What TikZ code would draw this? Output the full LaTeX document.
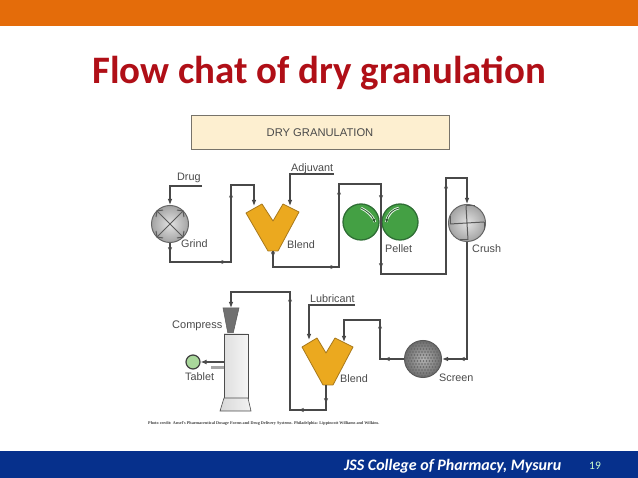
\documentclass[tikz,border=0pt]{standalone}
\usepackage{fontspec}
\setmainfont{Liberation Sans}
\newfontfamily\titlefont{Carlito}
\newfontfamily\creditfont{Liberation Serif}
\usetikzlibrary{arrows.meta,decorations.markings}
\definecolor{bannerorange}{HTML}{E46C0A}
\definecolor{footblue}{HTML}{06308C}
\definecolor{titlered}{HTML}{B00F17}
\definecolor{boxfill}{HTML}{FDEFD0}
\definecolor{boxline}{HTML}{77736A}
\definecolor{linegray}{HTML}{484848}
\definecolor{labelgray}{HTML}{4A4A4A}
\definecolor{vyellow}{HTML}{EBA91F}
\definecolor{vedge}{HTML}{A8791C}
\definecolor{rollgreen}{HTML}{44A044}
\definecolor{rolledge}{HTML}{2F6F35}
\definecolor{tabgreen}{HTML}{A9D79B}
\tikzset{
  flow/.style={draw=linegray,line width=1.1pt,-{Latex[length=6pt,width=4.6pt]}},
  plain/.style={draw=linegray,line width=1.1pt},
  tip/.style={postaction={decorate,decoration={markings,mark=at position #1 with {\arrow{Latex[length=5.5pt,width=4.4pt]}}}}},
  lab/.style={anchor=base west,inner sep=0pt,text=labelgray,font=\fontsize{10.8}{12}\selectfont},
  ball/.style={circle,draw=#1,line width=1pt,minimum size=37pt,inner sep=0pt,inner color=gray!22,outer color=gray!72},
  roller/.style={circle,draw=rolledge,line width=1.3pt,fill=rollgreen,minimum size=36pt,inner sep=0pt},
  vblend/.style={fill=vyellow,draw=vedge,line width=.8pt,line join=round},
  inner/.style={draw=linegray!90,line width=1pt},
  whitearc/.style={draw=white!88!rollgreen,line width=2.6pt},
  darkarc/.style={draw=rolledge!80!black,line width=.8pt,-{Latex[length=4pt,width=3.5pt]}}
}
\begin{document}
\begin{tikzpicture}[x=1pt,y=-1pt]
\useasboundingbox (0,0) rectangle (638,478);
\fill[white] (0,0) rectangle (638,478);
\fill[bannerorange] (0,0) rectangle (638,26);
\fill[footblue] (0,451) rectangle (638,478);
\node[anchor=base west,inner sep=0pt,text=titlered,font=\titlefont\bfseries\fontsize{38.9}{42}\selectfont] (title) at (92,84) {Flow chat of dry granulation};
\node[anchor=base west,inner sep=0pt,text=white,font=\titlefont\bfseries\itshape\fontsize{16}{20}\selectfont] (college) at (344,471) {JSS College of Pharmacy, Mysuru};
\node[anchor=base west,inner sep=0pt,text=white!80!green,font=\titlefont\fontsize{11.5}{13}\selectfont] (pageno) at (589,470) {19};

% heading
\node[draw=boxline,line width=1pt,fill=boxfill,minimum width=258pt,minimum height=34pt,inner sep=0pt,text=labelgray,font=\fontsize{11.2}{13}\selectfont] (head) at (320,133) {DRY GRANULATION};

% equipment
\node[ball=gray!80!black] (grinder) at (170,224) {};
\node[ball=gray!80!black] (crusher) at (467,223) {};
\draw[inner] (157,211) -- (183,237) (183,211) -- (157,237);
\draw[inner] (157,211) -- ++(6,-1) (157,211) -- ++(-1,6) (183,211) -- ++(-6,-1) (183,211) -- ++(1,6) (157,237) -- ++(6,1) (157,237) -- ++(-1,-6) (183,237) -- ++(-6,1) (183,237) -- ++(1,-6);
\draw[inner] (450,224) -- (484,222) (466,206) -- (468,240);
\draw[inner] (466,206) -- ++(9,0) (484,222) -- ++(0,8) (468,240) -- ++(-8,0) (450,224) -- ++(0,-8);

\node[roller] (rollL) at (361,222) {};
\node[roller] (rollR) at (400,222) {};
\coordinate (nip) at (381,222);
\draw[whitearc] (361,208) .. controls (367,211) and (372,215) .. (375,222);
\draw[whitearc] (399,208) .. controls (393,209) and (388,214) .. (386,222);
\draw[darkarc] (361,208) .. controls (367,211) and (372,215) .. (375,223);
\draw[darkarc] (399,208) .. controls (393,209) and (388,214) .. (386,223);

\draw[vblend] (246,213) -- (262,204) -- (273,221) -- (283,204) -- (299,212) -- (278,251) -- (268,251) -- cycle;
\draw[vblend] (302,347) -- (317,338) -- (326,353) -- (335,338) -- (353,347) -- (333,385) -- (323,385) -- cycle;
\coordinate (blendAinL) at (254,206);
\coordinate (blendAinR) at (290,206);
\coordinate (blendAout) at (273,251);
\coordinate (blendBinL) at (309,340);
\coordinate (blendBinR) at (344,342);
\coordinate (blendBout) at (326,385);

\node[circle,draw=gray!70!black,line width=1pt,minimum size=37pt,inner sep=0pt,inner color=gray!60,outer color=gray!85!black] (screen) at (423,359) {};
\begin{scope}
\clip (423,359) circle (18pt);
\foreach \r in {0,...,13}{
  \pgfmathsetmacro{\off}{mod(\r,2)*1.5}
  \foreach \c in {0,...,13}{
    \fill[black!60] (404+\c*3+\off,340+\r*3) circle (.8pt);
  }
}
\end{scope}

\draw[fill=gray!75!black!90,draw=gray!70!black,line width=.5pt] (223,308) -- (239,308) -- (233,334) -- (228,334) -- cycle;
\coordinate (hopperin) at (231,308);
\node[draw=gray!60!black,line width=.6pt,left color=gray!25,right color=gray!8,minimum width=24pt,minimum height=64pt,inner sep=0pt] (press) at (236,366) {};
\draw[draw=gray!60!black,line width=.6pt,left color=gray!30,right color=gray!10] (224,398) -- (248,398) -- (251,411) -- (220,411) -- cycle;
\node[circle,draw=black!75,line width=1.2pt,fill=tabgreen,minimum size=14pt,inner sep=0pt] (tablet) at (193,362) {};
\draw[draw=black!70,line width=1.4pt,-{Latex[length=6pt,width=5pt]}] (press.west |- tablet) -- (tablet.east);
\fill[gray!70] (211,366.5) rectangle (224,369.5);

% connectors
\coordinate (drugend) at (202,186);
\draw[flow] (drugend) -- (grinder|-drugend) -- (grinder.north);
\draw[flow,tip=10pt,tip=76pt,tip=150pt] (grinder.south) -- (170,262) -- (231,262) -- (231,185) -- (254,185) -- (blendAinL);
\coordinate (adjend) at (334,174);
\draw[flow] (adjend) -- (290,174) -- (blendAinR);
\draw[plain,tip=7pt,tip=79pt,tip=160pt,tip=224pt] (blendAout) -- (273,267) -- (339,267) -- (339,184) -- (381,184) -- (nip);
\draw[flow,tip=47pt,tip=208pt] (nip) -- (381,274) -- (446,274) -- (446,178) -- (467,178) -- (crusher.north);
\draw[flow,tip=125pt] (crusher.south) -- (467,359) -- (screen.east);
\draw[flow,tip=20pt,tip=60pt] (screen.west) -- (380,359) -- (380,320) -- (344,320) -- (blendBinR);
\coordinate (lubend) at (355,305);
\draw[flow] (lubend) -- (309,305) -- (blendBinL);
\draw[flow,tip=19pt,tip=53pt,tip=175pt] (blendBout) -- (326,410) -- (290,410) -- (290,292) -- (231,292) -- (hopperin);

% labels
\node[lab] (drug) at (177,181) {Drug};
\node[lab] (grindl) at (181,248) {Grind};
\node[lab] (blendl) at (287,249) {Blend};
\node[lab] (adju) at (291,172) {Adjuvant};
\node[lab] (pellet) at (385,253) {Pellet};
\node[lab] (crush) at (472,253) {Crush};
\node[lab,font=\fontsize{11}{13}\selectfont] (compress) at (172,329) {Compress};
\node[lab] (tabl) at (185,381) {Tablet};
\node[lab] (lubr) at (310,303) {Lubricant};
\node[lab] (blendm) at (340,383) {Blend};
\node[lab] (screenl) at (439,382) {Screen};
\node[anchor=base west,inner sep=0pt,text=black!75,font=\creditfont\bfseries\fontsize{4.2}{5}\selectfont] (credit) at (148,425) {Photo credit: Ansel's Pharmaceutical Dosage Forms and Drug Delivery Systems. Philadelphia: Lippincott Williams and Wilkins.};
\end{tikzpicture}
\end{document}
